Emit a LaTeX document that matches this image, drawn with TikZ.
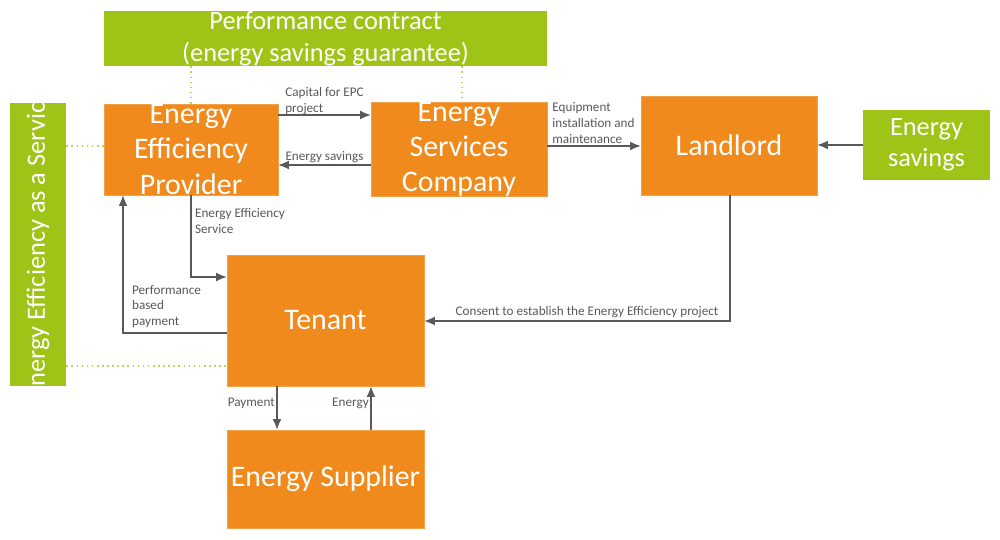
\documentclass[tikz,border=0pt]{standalone}
\usepackage{fontspec}
\setmainfont{Carlito}
\usetikzlibrary{arrows.meta}
\definecolor{org}{HTML}{F08A1C}
\definecolor{grn}{HTML}{9FC417}
\definecolor{ln}{HTML}{595959}
\begin{document}
\begin{tikzpicture}[x=0.02cm,y=-0.02cm,
 box/.style={fill=org,draw=org!80!white,text=white,font=\fontsize{17}{20}\selectfont,align=center,inner sep=0},
 gbox/.style={fill=grn,text=white,font=\fontsize{15}{18}\selectfont,align=center,inner sep=0},
 arr/.style={draw=ln,line width=0.6pt,-{Latex[length=6pt,width=5pt]}},
 dot/.style={draw=grn!70!white,dotted,line width=0.9pt},
 lab/.style={font=\fontsize{7.5}{9}\selectfont,text=ln,align=left,inner sep=1pt}]
\useasboundingbox (0,0) rectangle (1000,540);
\path[fill=white] (0,0) rectangle (1000,540);
\node[gbox,minimum width=443*0.02cm,minimum height=55*0.02cm] (pc) at (325.5,38.5) {Performance contract\\(energy savings guarantee)};
\node[gbox,minimum width=56*0.02cm,minimum height=283*0.02cm] (ee) at (38,244.5) {};
\node[rotate=90,text=white,font=\fontsize{15}{18}\selectfont] at (ee) {Energy Efficiency as a Service};
\node[box,minimum width=174*0.02cm,minimum height=91*0.02cm] (eep) at (191,149.5) {Energy\\Efficiency\\Provider};
\node[box,minimum width=176*0.02cm,minimum height=91*0.02cm] (esc) at (459,149.5) {Energy\\Services\\Company};
\node[box,minimum width=176*0.02cm,minimum height=99*0.02cm] (ll) at (729,145.5) {Landlord};
\node[gbox,minimum width=127*0.02cm,minimum height=70*0.02cm] (es) at (926.5,145) {Energy\\savings};
\node[box,minimum width=197*0.02cm,minimum height=131*0.02cm] (tn) at (325.5,320.5) {Tenant};
\node[box,minimum width=197*0.02cm,minimum height=98*0.02cm] (sp) at (325.5,479) {Energy Supplier};
% dotted
\draw[dot] (pc.south -| 191,0) -- (eep.north);
\draw[dot] (pc.south -| 462,0) -- (esc.north -| 462,0);
\draw[dot] (ee.east |- 0,146) -- (eep.west |- 0,146);
\draw[dot] (ee.east |- 0,366) -- (tn.west |- 0,366);
% arrows
\draw[arr] (eep.east |- 0,115) -- (esc.west |- 0,115) node[lab,pos=0.05,above right,yshift=-1pt] {Capital for EPC\\project};
\draw[arr] (esc.west |- 0,165) -- (eep.east |- 0,165) node[lab,pos=0.5,above,yshift=0pt] {Energy savings};
\draw[arr] (esc.east |- 0,146) -- (ll.west |- 0,146) node[lab,pos=0.03,above right] {Equipment\\installation and\\maintenance};
\draw[arr] (es.west) -- (ll.east |- es.west);
\coordinate (c1) at (191,277);
\draw[arr] (eep.south) -- (c1) -- (tn.west |- c1);
\node[lab,anchor=north west] at (193,206) {Energy Efficiency\\Service};
\coordinate (c2) at (123,333);
\draw[arr] (tn.west |- c2) -- (c2) -- (eep.south -| c2);
\node[lab,anchor=north west] at (130,283) {Performance\\based\\payment};
\coordinate (c3) at (730,321);
\draw[arr] (ll.south -| c3) -- (c3) -- (tn.east |- c3);
\node[lab,anchor=south] at (587,320) {Consent to establish the Energy Efficiency project};
\draw[arr] (tn.south -| 277,0) -- (sp.north -| 277,0) node[lab,pos=0.4,left] {Payment};
\draw[arr] (sp.north -| 371,0) -- (tn.south -| 371,0) node[lab,pos=0.6,left] {Energy};
\end{tikzpicture}
\end{document}
